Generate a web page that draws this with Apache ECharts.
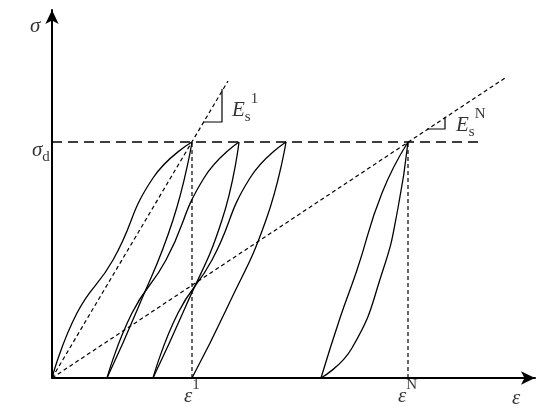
<!DOCTYPE html>
<html lang="en">
<head>
    <meta charset="UTF-8">
    <title>Secant modulus loops</title>
    <script src="https://cdn.jsdelivr.net/npm/echarts@6/dist/echarts.min.js"></script>
    <style>
        body { margin: 0; background: #fff; }
        #chart { width: 550px; height: 418px; }
    </style>
</head>
<body>
<div id="chart"></div>
<script>
    // loading / unloading branches (strain, stress units)
    const load1 = [[0, 0], [25, 65], [61, 118], [101, 200], [140, 236]];
    const unload1 = [[140, 236], [121, 158], [86, 70], [55, 0]];
    const load2 = [[55, 0], [80, 65], [114, 118], [152, 200], [187, 236]];
    const unload2 = [[187, 236], [170, 158], [133, 70], [101, 0]];
    const load3 = [[101, 0], [126, 65], [160, 118], [198, 200], [234, 236]];
    const unload3 = [[234, 236], [214, 158], [175, 70], [140, 0]];
    const loadN = [[269, 0], [288, 60], [305, 108], [330, 185], [356, 236]];
    const unloadN = [[356, 236], [346, 170], [331, 108], [300, 30], [269, 0]];
    const secant1 = [[0, 0], [176, 297]];
    const secantN = [[0, 0], [453, 300]];
    const sigmaD = [[0, 236], [431, 236]];
    const eps1Line = [[140, 0], [140, 236]];
    const epsNLine = [[356, 0], [356, 236]];
    const tri1 = [[151, 256], [170, 256], [170, 289]];
    const triN = [[375, 249], [393, 249], [393, 261]];

    const chart = echarts.init(document.getElementById('chart'));
    const serif = 'Liberation Serif';
    const rich = {
        i: { fontFamily: serif, fontStyle: 'italic', fontSize: 21, color: '#000' },
        s: { fontFamily: serif, fontSize: 15, color: '#000', verticalAlign: 'bottom', padding: [0, 0, -4, 0] },
        p: { fontFamily: serif, fontSize: 15, color: '#000', verticalAlign: 'top', padding: [-8, 0, 0, 0] }
    };
    const labels = [
        { value: [-22, 352], text: '{i|σ}' },
        { value: [-20, 228], text: '{i|σ}{s|d}' },
        { value: [180, 268], text: '{i|E}{s|s}{p|1}' },
        { value: [404, 253], text: '{i|E}{s|s}{p|N}' },
        { value: [132, -18], text: '{i|ε}{p|1}' },
        { value: [346, -18], text: '{i|ε}{p|N}' },
        { value: [460, -20], text: '{i|ε}' }
    ];

    const solid = (d) => ({ type: 'line', data: d, smooth: true, symbol: 'none',
        lineStyle: { color: '#000', width: 1.3 } });
    const dashed = (d, w) => ({ type: 'line', data: d, symbol: 'none',
        lineStyle: { color: '#000', width: w || 1.2, type: [4, 3] } });

    chart.setOption({
        animation: false,
        grid: { left: 52, right: 15, top: 10, bottom: 40 },
        xAxis: {
            type: 'value', min: 0, max: 483,
            axisLine: { lineStyle: { color: '#000', width: 2 }, symbol: ['none', 'arrow'], symbolSize: [10, 14] },
            axisTick: { show: false }, axisLabel: { show: false }, splitLine: { show: false }
        },
        yAxis: {
            type: 'value', min: 0, max: 368,
            axisLine: { lineStyle: { color: '#000', width: 2 }, symbol: ['none', 'arrow'], symbolSize: [10, 14] },
            axisTick: { show: false }, axisLabel: { show: false }, splitLine: { show: false }
        },
        series: [
            solid(load1), solid(unload1), solid(load2), solid(unload2),
            solid(load3), solid(unload3), solid(loadN), solid(unloadN),
            dashed(secant1), dashed(secantN), dashed(eps1Line), dashed(epsNLine),
            { type: 'line', data: sigmaD, symbol: 'none',
              lineStyle: { color: '#000', width: 1.5, type: [10, 6] } },
            { type: 'line', data: tri1, symbol: 'none', lineStyle: { color: '#000', width: 1.2 } },
            { type: 'line', data: triN, symbol: 'none', lineStyle: { color: '#000', width: 1.2 } },
            {
                type: 'scatter', symbolSize: 0, clip: false,
                data: labels.map(l => ({ value: l.value, label: { formatter: l.text } })),
                label: { show: true, position: 'right', distance: 0, rich: rich }
            }
        ]
    });
</script>
</body>
</html>
